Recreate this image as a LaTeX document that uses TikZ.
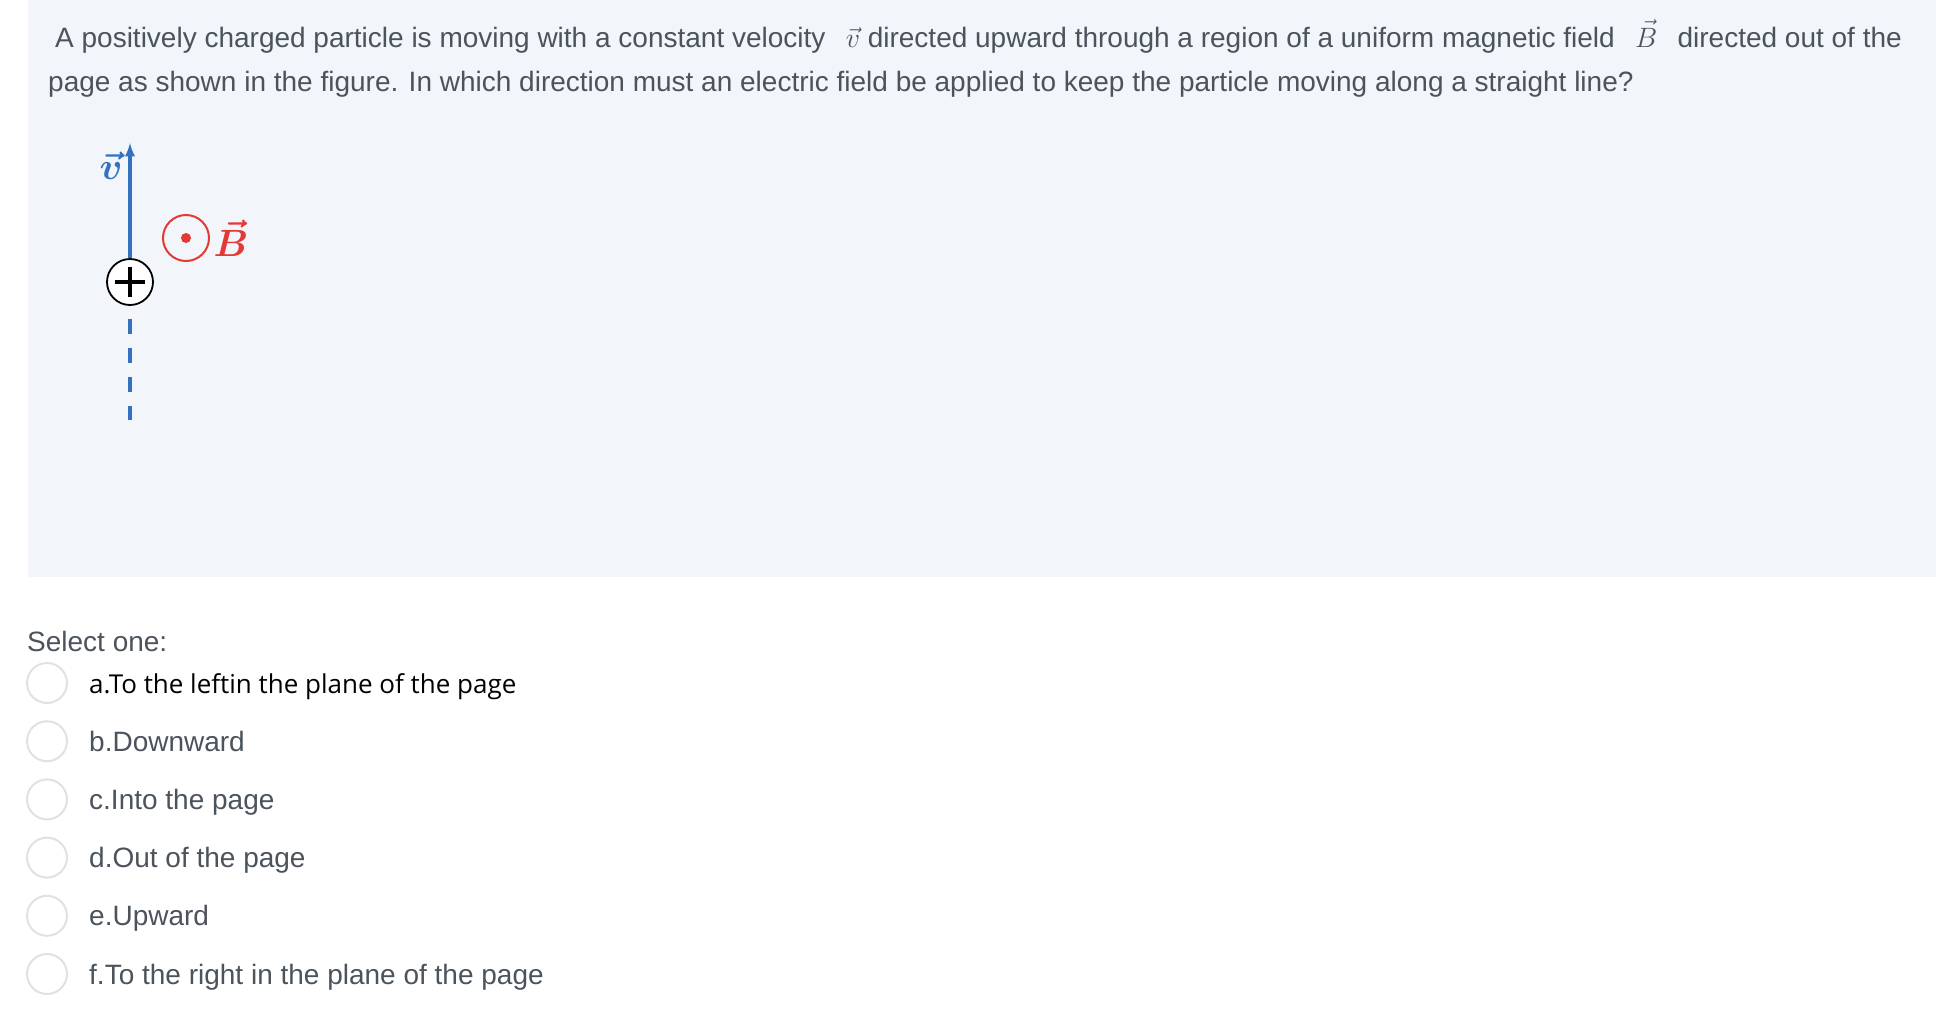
\RequirePackage{fix-cm}
\documentclass[tikz,border=0pt]{standalone}
\usepackage{bm}
\usepackage{fontspec}
\setmainfont{Liberation Sans}
\newfontfamily\optfont{Open Sans}
\usepackage{xcolor}
\usetikzlibrary{arrows}
\usetikzlibrary{positioning,calc}
\definecolor{panel}{HTML}{F2F5F9}
\definecolor{txtgray}{HTML}{4B535C}
\definecolor{vblue}{HTML}{3272BF}
\definecolor{bred}{HTML}{E53935}
\definecolor{ring}{HTML}{DEE2E6}
\begin{document}
\begin{tikzpicture}[x=1pt, y=-1pt, >=latex, every node/.style={inner sep=0}]
		\useasboundingbox (0,0) rectangle (1936,1026);
		\fill[panel] (28,0) rectangle (1936,577);
		\node[anchor=base west, txtgray, font=\fontsize{28}{33}\selectfont] (line1) at (55,47) {A positively charged particle is moving with a constant velocity \;\,$\vec{v}$ directed upward through a region of a uniform magnetic field \;\,$\vec{B}$\;\, directed out of the};
		\node[anchor=base west, txtgray, font=\fontsize{28}{33}\selectfont] (line2) at (48,91) {page as shown in the figure. In which direction must an electric field be applied to keep the particle moving along a straight line?};
		
		\node[draw, circle, line width=1.8, fill=white, minimum size=46] (q) at (130,282) {};
		\draw[line width=4] ($ (q) + (-15,0) $) -- ($ (q) + (15,0) $) ($ (q) + (0,-15) $) -- ($ (q) + (0,15) $);
		\coordinate (vtip) at (130,143);
		\coordinate (tail) at (130,420);
		\draw[->, vblue, line width=3.5] (q) -- (vtip);
		\draw[vblue, line width=3.5, dash pattern=on 15 off 14, shorten <=13] (q) -- (tail);
		\node[vblue, font=\fontsize{38}{38}\selectfont] (vlab) at (111,166) {$\bm{\vec{v}}$};
		
		\node[draw=bred, circle, line width=2, minimum size=46] (bfield) at (186,238) {};
		\fill[bred] (bfield.center) circle (5);
		\node[bred, font=\fontsize{38}{38}\selectfont] (blab) at (231,238) {$\bm{\vec{B}}$};
		
		\node[anchor=base west, txtgray, font=\fontsize{28}{33}\selectfont] (select) at (27,651) {Select one:};
		\foreach \txt [count=\i] in {{\optfont\fontsize{26}{31}\selectfont\color{black}a.To the leftin the plane of the page}, b.Downward, c.Into the page, d.Out of the page, e.Upward, f.To the right in the plane of the page} {
			\node[draw=ring, circle, line width=2, fill=white, minimum size=40] (radio\i) at (47,683+58.2*\i-58.2) {};
			\node[anchor=base west, txtgray, font=\fontsize{28}{33}\selectfont] (opt\i) at ($ (radio\i.center) + (42,10) $) {\txt};
		}
\end{tikzpicture}
\end{document}
